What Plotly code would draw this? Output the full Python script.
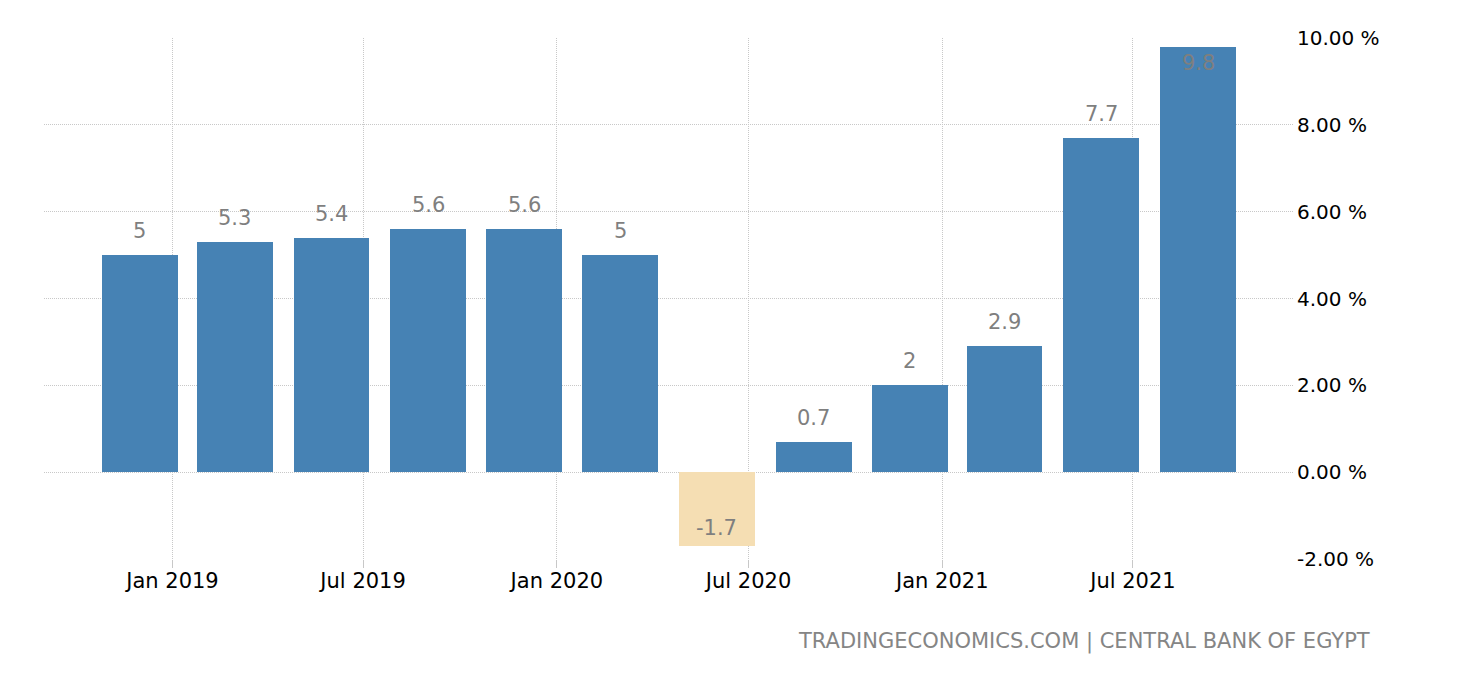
import plotly.graph_objects as go

# ---- data ----
quarters = ["2018-12-01", "2019-03-01", "2019-06-01", "2019-09-01",
            "2019-12-01", "2020-03-01", "2020-06-01", "2020-09-01",
            "2020-12-01", "2021-03-01", "2021-06-01", "2021-09-01"]
growth = [5, 5.3, 5.4, 5.6, 5.6, 5, -1.7, 0.7, 2, 2.9, 7.7, 9.8]
y_ticks = [-2, 0, 2, 4, 6, 8, 10]
y_tick_labels = ["-2.00 %", "0.00 %", "2.00 %", "4.00 %", "6.00 %", "8.00 %", "10.00 %"]
x_ticks = ["2019-01-01", "2019-07-01", "2020-01-01", "2020-07-01", "2021-01-01", "2021-07-01"]
x_tick_labels = ["Jan 2019", "Jul 2019", "Jan 2020", "Jul 2020", "Jan 2021", "Jul 2021"]
source_text = "TRADINGECONOMICS.COM | CENTRAL BANK OF EGYPT"

# ---- style ----
BLUE = "#4682B4"
WHEAT = "#F5DEB3"
LABEL_GRAY = "#7F7F7F"
GRID = "#C8C8C8"
FONT = "DejaVu Sans"
DAY_MS = 86400000
Y_MIN, Y_MAX = -2, 10

colors = [WHEAT if v < 0 else BLUE for v in growth]

fig = go.Figure()
fig.add_trace(go.Bar(
    x=quarters, y=growth,
    marker=dict(color=colors, line=dict(width=0)),
    width=72 * DAY_MS,
    hoverinfo="x+y",
    showlegend=False,
))

annotations = []
for d, v in zip(quarters, growth):
    if v < 0:
        shift = 18
    elif v > Y_MAX - 0.9:
        shift = -16
    else:
        shift = 24
    annotations.append(dict(
        x=d, y=v, xref="x", yref="y", text=f"{v:g}", showarrow=False,
        yanchor="middle", xanchor="center", yshift=shift,
        font=dict(family=FONT, size=21, color=LABEL_GRAY),
    ))

annotations.append(dict(
    x=1.0633, y=-0.159, xref="paper", yref="paper", text=source_text,
    showarrow=False, xanchor="right", yanchor="middle",
    font=dict(family=FONT, size=21, color="#858585"),
))

fig.update_layout(
    width=1460, height=680,
    margin=dict(l=36, r=175, t=30, b=129, autoexpand=False),
    paper_bgcolor="white", plot_bgcolor="white",
    bargap=0,
    annotations=annotations,
    font=dict(family=FONT, color="black"),
    xaxis=dict(
        type="date",
        range=["2018-09-01", "2021-11-30"],
        tickvals=x_ticks, ticktext=x_tick_labels,
        showgrid=True, gridcolor=GRID, griddash="1px,1px", gridwidth=1,
        ticks="outside", ticklen=8, tickcolor=GRID, tickwidth=1,
        ticklabelstandoff=-5,
        tickfont=dict(family=FONT, size=21, color="black"),
        showline=False, zeroline=False,
    ),
    yaxis=dict(
        side="right",
        range=[Y_MIN, Y_MAX],
        tickvals=y_ticks, ticktext=y_tick_labels,
        showgrid=True, gridcolor=GRID, griddash="1px,1px", gridwidth=1,
        zeroline=False, showline=False,
        ticks="", ticklabelstandoff=3,
        tickfont=dict(family=FONT, size=20, color="black"),
    ),
)

fig.write_html("out.html")
